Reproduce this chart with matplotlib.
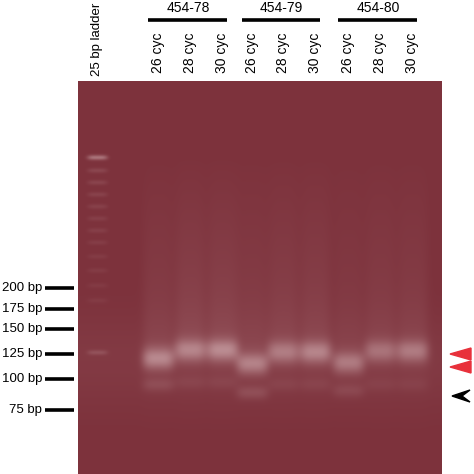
import numpy as np
import matplotlib
matplotlib.use("Agg")
import matplotlib.pyplot as plt
from matplotlib.patches import Polygon

plt.rcParams['font.family'] = ['Liberation Sans', 'DejaVu Sans']

# marker sizes and where they sit on the gel (pixel rows)
marker_bp = [200, 175, 150, 125, 100, 75]
marker_y = [288, 309, 329, 354, 379, 410]

samples = ["454-78", "454-79", "454-80"]
cycles = ["26 cyc", "28 cyc", "30 cyc"]
lane_x = [158, 190, 222, 252, 283, 315, 348, 380, 412]
ladder_x = 97

# bands per sample lane: (row, intensity)
main_band_y = [358, 350, 350, 363, 352, 352, 362, 351, 351]
main_band_i = [0.45, 0.38, 0.42, 0.42, 0.35, 0.40, 0.38, 0.30, 0.35]
low_band_y = [384, 382, 382, 392, 384, 384, 390, 384, 384]
low_band_i = [0.12, 0.06, 0.06, 0.14, 0.06, 0.06, 0.10, 0.05, 0.05]
smear_i = [0.08, 0.12, 0.12, 0.08, 0.10, 0.10, 0.06, 0.08, 0.08]

ladder_y = [157, 170, 182, 194, 206, 218, 230, 242, 256, 270, 285, 300, 352]
ladder_i = [0.40, 0.12, 0.11, 0.10, 0.09, 0.08, 0.08, 0.07, 0.06, 0.06, 0.05, 0.05, 0.15]

# ---- build gel image ----
gx0, gx1, gy0, gy1 = 78, 442, 81, 474
yy, xx = np.mgrid[gy0:gy1, gx0:gx1].astype(float)
glow = np.zeros_like(xx)
for i, x in enumerate(lane_x):
    lane = np.exp(-((xx - x) / 16.0) ** 4)
    glow += main_band_i[i] * lane * np.exp(-((yy - main_band_y[i]) / 11.0) ** 2)
    glow += low_band_i[i] * lane * np.exp(-((yy - low_band_y[i]) / 7.0) ** 2)
    glow += smear_i[i] * lane * np.clip((yy - 150) / 190, 0, 1) * np.exp(-np.clip(yy - 345, 0, None) / 20)
lad = np.exp(-((xx - ladder_x) / 10.0) ** 4)
for y, a in zip(ladder_y, ladder_i):
    glow += a * lad * np.exp(-((yy - y) / 2.5) ** 2)
glow += 0.05 * np.exp(-((yy - 360) / 45.0) ** 2)
glow = np.clip(glow, 0, 1)

base = np.array([125, 50, 60]) / 255.0
white = np.array([235, 210, 212]) / 255.0
img = base[None, None, :] + glow[..., None] * (white - base)[None, None, :]

fig = plt.figure(figsize=(4.74, 4.74), dpi=100)
ax = fig.add_axes([0, 0, 1, 1])
ax.set_xlim(0, 474)
ax.set_ylim(474, 0)
ax.axis("off")
ax.imshow(img, extent=(gx0, gx1, gy1, gy0), interpolation="bilinear")

# size markers
for bp, y in zip(marker_bp, marker_y):
    ax.plot([45, 74], [y, y], color="black", lw=2.6, solid_capstyle="butt")
    ax.text(42, y, f"{bp} bp", ha="right", va="center", fontsize=9.5)

# lane labels
ax.text(ladder_x, 76, "25 bp ladder", rotation=90, ha="center", va="bottom", fontsize=9.5)
for i, x in enumerate(lane_x):
    ax.text(x, 73, cycles[i % 3], rotation=90, ha="center", va="bottom", fontsize=10)
for j, s in enumerate(samples):
    xs = lane_x[3 * j:3 * j + 3]
    ax.plot([xs[0] - 10, xs[2] + 5], [20, 20], color="black", lw=2.6, solid_capstyle="butt")
    ax.text((xs[0] + xs[2]) / 2 - 2, 15, s, ha="center", va="bottom", fontsize=10)

# arrowheads
for y in [354, 367]:
    ax.add_patch(Polygon([[450, y], [471, y - 6], [471, y + 6]], closed=True, color="#e8313b"))
ax.add_patch(Polygon([[452, 396], [470, 390], [462, 396], [470, 402]], closed=True, color="black"))

fig.savefig("out.png", dpi=100)
